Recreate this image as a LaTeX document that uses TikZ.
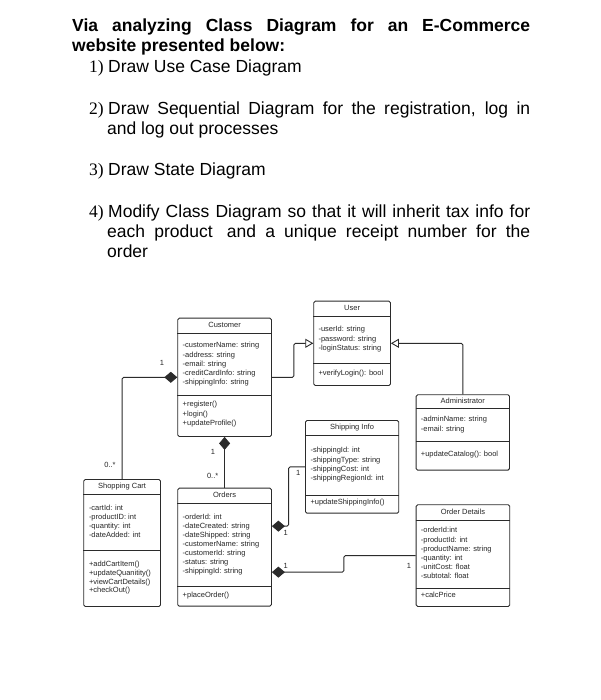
\documentclass[tikz,border=0pt]{standalone}
\usepackage{fontspec}
\setmainfont{Liberation Sans}
\newfontfamily\numfont{Liberation Serif}
\usetikzlibrary{arrows.meta,calc}
\definecolor{linecol}{HTML}{2B2B2B}
\tikzset{
 clsbox/.style={draw=linecol, line width=0.9pt, rounded corners=1.5pt, anchor=north west, inner sep=0pt},
 divline/.style={draw=linecol, line width=0.9pt},
 attr/.style={font=\fontsize{7.5}{9}\selectfont, inner sep=0pt, text height=5.4pt, text depth=1.6pt, anchor=west, text=black!85},
 ttl/.style={attr, anchor=center},
 mult/.style={attr, anchor=center},
 conn/.style={draw=linecol, line width=0.9pt, rounded corners=1.5pt},
 gen/.style={conn, -{Triangle[open, length=8pt, width=9pt, line width=0.9pt]}},
 comp/.style={conn, -{Diamond[length=13pt, width=11pt]}},
 comps/.style={conn, {Diamond[length=13pt, width=11pt]}-},
 head/.style={font=\fontsize{17.5}{20}\selectfont\bfseries, inner sep=0pt, anchor=base west},
 itm/.style={font=\fontsize{17.5}{20}\selectfont, inner sep=0pt, anchor=base west},
}
\newcommand\umlbox[8]{% name, left, top, width, height, div1, div2, title
 \node[clsbox, minimum width=#4pt, minimum height=#5pt] (#1) at (#2,#3) {};
 \draw[divline] (#1.west |- 0,#6) -- (#1.east |- 0,#6);
 \draw[divline] (#1.west |- 0,#7) -- (#1.east |- 0,#7);
 \node[ttl] (#1-title) at ($(#1.north)!0.5!(#1.north |- 0,#6)$) {#8};
}
\newcommand\attrlines[5]{% prefix, x, y0, step, list
 \foreach \txt [count=\i from 0] in {#5} {\node[attr] (#1\i) at (#2, {#3+\i*#4}) {\txt};}
}
\begin{document}
\begin{tikzpicture}[x=1pt,y=-1pt]
\fill[white] (0,0) rectangle (600,700);
\useasboundingbox (0,0) rectangle (600,700);

% heading
\node[head] (h1) at (72,31.7) {\makebox[458pt][s]{Via analyzing Class Diagram for an E-Commerce}};
\node[head] (h2) at (72,51.7) {website presented below:};
\node[itm] (n1) at (89,72.7) {\numfont 1)};
\node[itm] (t1) at (108,72.7) {Draw Use Case Diagram};
\node[itm] (n2) at (89,114.3) {\numfont 2)};
\node[itm] (t2a) at (108,114.3) {\makebox[422pt][s]{Draw Sequential Diagram for the registration, log in}};
\node[itm] (t2b) at (107,134.3) {and log out processes};
\node[itm] (n3) at (89,176) {\numfont 3)};
\node[itm] (t3) at (108,176) {Draw State Diagram};
\node[itm] (n4) at (89,217.7) {\numfont 4)};
\node[itm] (t4a) at (108,217.7) {\makebox[422pt][s]{Modify Class Diagram so that it will inherit tax info for}};
\node[itm] (t4b) at (107,237.7) {\makebox[423pt][s]{each product \hspace{5pt}and a unique receipt number for the}};
\node[itm] (t4c) at (107,257.7) {order};

% class boxes
\umlbox{user}{313.3}{300.7}{76.7}{84.3}{316.7}{363.3}{User}
\attrlines{ua}{318.3}{330}{9.3}{-userId: string, -password: string, -loginStatus: string}
\attrlines{um}{318.3}{374}{9}{+verifyLogin(): bool}

\umlbox{customer}{177.3}{317.7}{93.7}{118.3}{333.3}{395}{Customer}
\attrlines{ca}{182.5}{346}{9.25}{-customerName: string, -address: string, -email: string, -creditCardInfo: string, -shippingInfo: string}
\attrlines{cm}{182.5}{405}{9.5}{+register(), +login(), +updateProfile()}

\umlbox{admin}{415.7}{394.3}{93.3}{75.4}{408.3}{441}{Administrator}
\attrlines{aa}{420.7}{420}{9.5}{-adminName: string, -email: string}
\attrlines{am}{420.7}{454.3}{9}{+updateCatalog(): bool}

\umlbox{ship}{305}{420}{93.3}{92.7}{435}{495}{Shipping Info}
\attrlines{sa}{310.3}{451}{9.1}{-shippingId: int, -shippingType: string, -shippingCost: int, -shippingRegionId: int}
\attrlines{sm}{310.3}{502.7}{9}{+updateShippingInfo()}

\umlbox{cart}{83.3}{479}{76.7}{127}{494.3}{550}{Shopping Cart}
\attrlines{ka}{88.8}{509}{9}{-cartId: int, -productID: int, -quantity: int, -dateAdded: int}
\attrlines{km}{88.8}{564.3}{8.9}{+addCartItem(), +updateQuanitity(), +viewCartDetails(), +checkOut()}

\umlbox{orders}{177.3}{487.7}{93.7}{118}{503.3}{586.7}{Orders}
\attrlines{oa}{182.5}{517.3}{9.07}{-orderId: int, -dateCreated: string, -dateShipped: string, -customerName: string, -customerId: string, -status: string, -shippingId: string}
\attrlines{om}{182.5}{596}{9}{+placeOrder()}

\umlbox{details}{415.7}{504.3}{93.6}{101.7}{520}{588.3}{Order Details}
\attrlines{da}{420.7}{531}{9.14}{-orderId:int, -productId: int, -productName: string, -quantity: int, -unitCost: float, -subtotal: float}
\attrlines{dm}{420.7}{596}{9}{+calcPrice}

% connectors
\draw[gen] (customer.east) -- ++(22,0) |- (user.west);
\draw[gen] (admin.north) |- (user.east);
\draw[comp] (cart.north) |- (customer.west);
\draw[comp] (orders.north) -- (customer.south);
\draw[comps] ([yshift=21pt]orders.east) -- ++(16.7,0) |- (ship.west);
\draw[comps] ([yshift=-25pt]orders.east) -- ++(72,0) |- (details.west);

% multiplicities
\node[mult] (m1) at (162,364) {1};
\node[mult] (m2) at (110,466) {0..*};
\node[mult] (m3) at (213,452.7) {1};
\node[mult] (m4) at (212.7,477) {0..*};
\node[mult] (m5) at (285.7,533.5) {1};
\node[mult] (m6) at (298.3,473.5) {1};
\node[mult] (m7) at (285.7,566.5) {1};
\node[mult] (m8) at (409,567) {1};
\end{tikzpicture}
\end{document}
